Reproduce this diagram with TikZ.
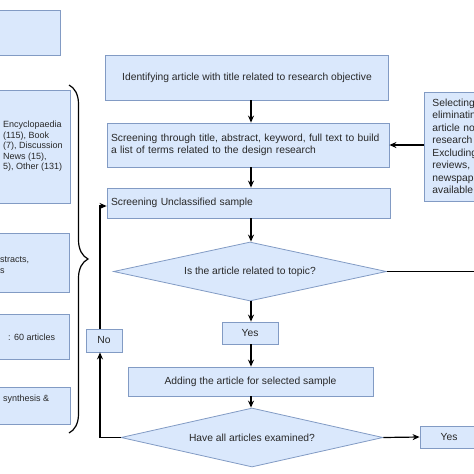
\documentclass[tikz,border=0pt]{standalone}
\usepackage{fontspec}
\setmainfont{Liberation Sans}
\usetikzlibrary{shapes.geometric,arrows.meta,decorations.pathreplacing}
\definecolor{boxfill}{RGB}{218,232,252}
\definecolor{boxline}{RGB}{130,155,196}
\definecolor{txt}{RGB}{40,40,40}

\begin{document}
\begin{tikzpicture}[x=1pt,y=-1pt,
    font=\fontsize{10.3}{12.5}\selectfont, text=txt,
    box/.style={draw=boxline, fill=boxfill, line width=0.8pt, inner sep=4pt},
    dia/.style={box, diamond, aspect=4.6, inner sep=0pt},
    side/.style={anchor=west, align=left, inner sep=0pt, font=\fontsize{9}{10.5}\selectfont},
    arr/.style={line width=1.2pt, -{Stealth[length=7pt,width=6pt]}},
    con/.style={line width=1.2pt}]
  \useasboundingbox (0,0) rectangle (474,474);
  \clip (0,0) rectangle (474,474);

  \node[box, minimum width=100pt, minimum height=45pt] (lb1) at (10,32.5) {};
  \node[box, minimum width=110pt, minimum height=113pt] (lb2) at (15,146.5) {};
  \node[box, minimum width=109pt, minimum height=59pt] (lb3) at (14.5,262.5) {};
  \node[box, minimum width=109pt, minimum height=45pt] (lb4) at (14.5,336.5) {};
  \node[box, minimum width=110pt, minimum height=37pt] (lb5) at (15,405.5) {};
  \node[side] (lb2t) at (3,146.5) {Encyclopaedia\\(115), Book\\(7), Discussion\\News (15),\\5), Other (131)};
  \node[side] (lb3t) at (0,265) {stracts,\\s};
  \node[side] (lb4t) at (8,337) {: 60 articles};
  \node[side] (lb5t) at (3,399) {synthesis \&};
  \draw[con, decorate, decoration={brace, amplitude=19pt}] (69,85) -- (69,433);

  \node[box, minimum width=283pt, minimum height=45pt] (idt) at (247,77.5) {Identifying article with title related to research objective};
  \node[box, minimum width=282pt, minimum height=44pt, text width=274pt, align=left] (scr) at (248,145) {Screening through title, abstract, keyword, full text to build\\a list of terms related to the design research};
  \node[box, minimum width=283pt, minimum height=30pt, text width=275pt, align=left] (unc) at (248.5,203) {Screening Unclassified sample};
  \node[dia, minimum width=273pt, minimum height=59pt] (q1) at (250,271.5) {Is the article related to topic?};
  \node[box, minimum width=56pt, minimum height=22pt] (yes1) at (250,333) {Yes};
  \node[box, minimum width=245pt, minimum height=29pt] (add) at (250.5,381.5) {Adding the article for selected sample};
  \node[dia, minimum width=262pt, minimum height=59pt] (q2) at (252,437.5) {Have all articles examined?};
  \node[box, minimum width=58pt, minimum height=22pt] (yes2) at (449,437) {Yes};
  \node[box, minimum width=36pt, minimum height=23pt] (no) at (104,340.5) {No};
  \node[box, anchor=west, minimum width=80pt, minimum height=109pt, text width=64pt, inner xsep=8pt, inner ysep=4pt, align=left] (sel) at (424,146.5) {Selecting\\eliminating\\article not\\research\\Excluding\\reviews,\\newspaper\\available};

  \coordinate (col) at (251,0);
  \coordinate (offr) at (480,271.5);
  \draw[arr] (idt.south -| col) -- (scr.north -| col);
  \draw[arr] (scr.south -| col) -- (unc.north -| col);
  \draw[arr] (unc.south -| col) -- (q1.north -| col);
  \draw[arr] (q1.south -| col) -- (yes1.north -| col);
  \draw[arr] (yes1.south -| col) -- (add.north -| col);
  \draw[arr] (add.south -| col) -- (q2.north -| col);
  \draw[arr] (sel.west |- scr.east) -- (scr.east);
  \draw[con] (q1.east) -- (offr);
  \draw[arr] (q2.east) -- (yes2.west);
  \draw[arr] (q2.west) -| ([xshift=-4pt]no.south);
  \draw[arr] ([xshift=-4pt]no.north) |- ([yshift=-3pt]unc.west);
\end{tikzpicture}
\end{document}
